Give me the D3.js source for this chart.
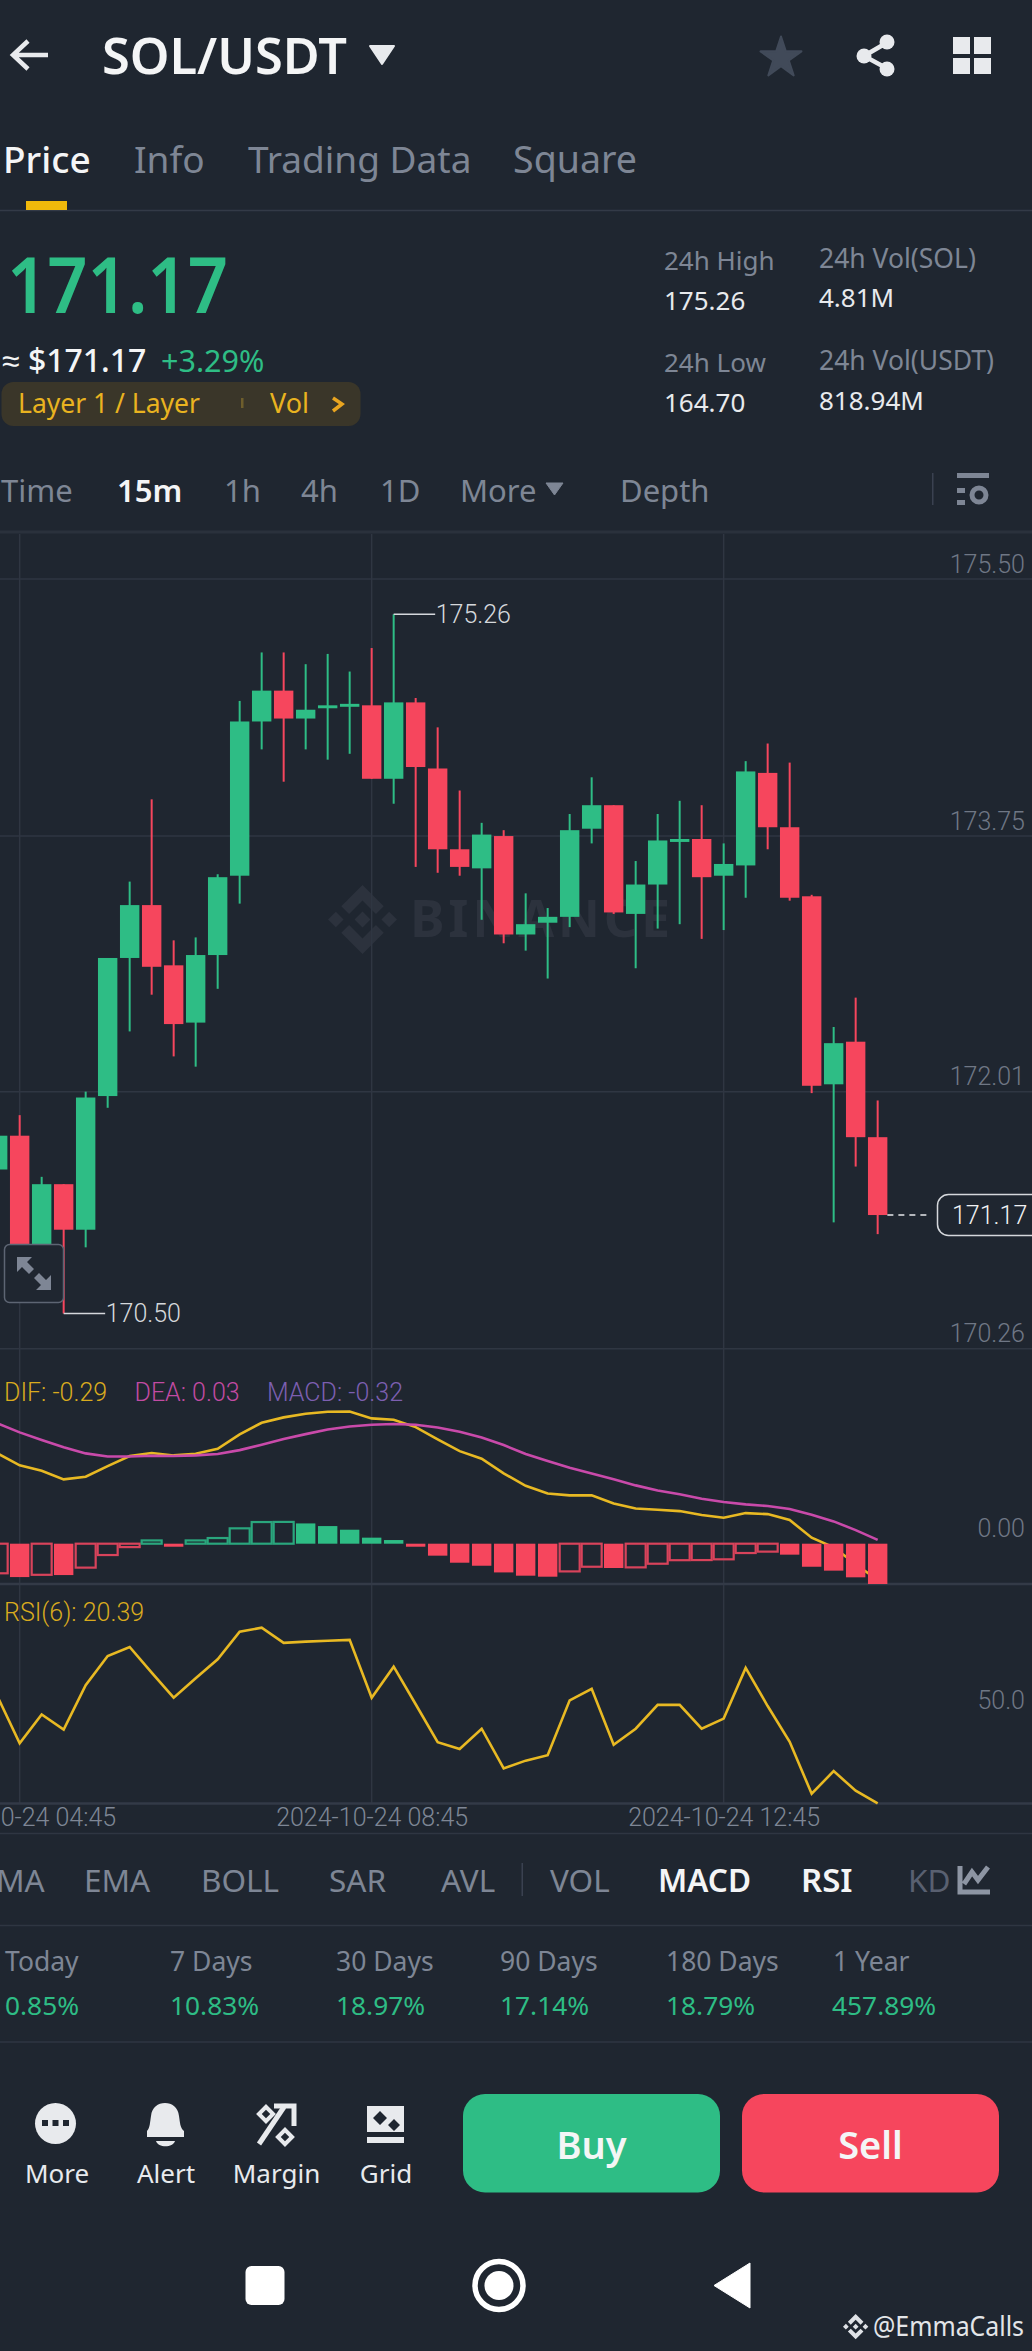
<!DOCTYPE html>
<html lang="en">
<head>
<meta charset="UTF-8">
<title>SOL/USDT</title>
<script src="https://d3js.org/d3.v7.min.js"></script>
<style>
    html, body { margin: 0; padding: 0; background: #1f2630; }
    svg { display: block; }
    text { font-family: "Noto Sans", sans-serif; }
    .chart-text, .chart-text text { font-family: Roboto, sans-serif; font-weight: 300; }
</style>
</head>
<body>
<div id="app"></div>
<script>
// 15m candles, 04:30 -> 14:30
const opens = [171.48,171.71,170.93,171.38,171.07,171.98,172.92,173.28,172.87,172.48,172.94,173.48,174.53,174.74,174.55,174.62,174.63,174.64,174.14,174.66,174.21,173.66,173.53,173.75,173.08,173.16,173.20,173.80,173.96,173.22,173.42,173.71,173.73,173.48,173.55,174.18,173.81,173.34,172.06,172.35,171.70];
const highs = [171.71,171.85,171.43,171.38,172.01,172.92,173.44,174.00,173.04,173.06,173.49,174.67,175.00,175.00,174.92,174.99,174.87,175.03,175.26,174.69,174.49,174.06,173.84,173.79,173.36,173.26,173.90,174.15,173.96,173.58,173.90,173.99,173.96,173.70,174.26,174.38,174.25,173.35,172.45,172.65,171.95];
const lows = [171.48,170.85,170.93,170.50,170.95,171.90,172.42,172.67,172.25,172.18,172.71,173.29,174.34,174.12,174.34,174.27,174.31,174.14,173.97,173.54,173.50,173.48,173.18,173.02,172.97,172.78,173.13,173.70,173.22,172.85,173.12,173.15,173.05,173.11,173.33,173.66,173.31,172.00,171.12,171.50,171.04];
const closes = [171.71,170.93,171.38,171.07,171.97,172.92,173.28,172.86,172.47,172.94,173.47,174.53,174.74,174.55,174.61,174.64,174.65,174.14,174.66,174.22,173.66,173.54,173.76,173.08,173.15,173.20,173.79,173.96,173.23,173.42,173.72,173.73,173.47,173.56,174.19,173.81,173.33,172.05,172.34,171.70,171.17];

const dif = [0.717,0.622,0.579,0.511,0.532,0.616,0.696,0.720,0.701,0.714,0.754,0.868,0.960,1.003,1.032,1.048,1.050,0.995,0.984,0.926,0.828,0.735,0.675,0.558,0.460,0.399,0.384,0.384,0.320,0.280,0.270,0.259,0.228,0.206,0.243,0.235,0.188,0.048,-0.029,-0.161,-0.29];
const dea = [0.955,0.884,0.823,0.765,0.717,0.693,0.693,0.698,0.696,0.701,0.712,0.743,0.786,0.831,0.870,0.907,0.931,0.944,0.950,0.944,0.923,0.889,0.844,0.783,0.712,0.656,0.603,0.558,0.511,0.463,0.423,0.392,0.357,0.331,0.312,0.299,0.275,0.230,0.177,0.108,0.03];
const macd = [-0.235,-0.265,-0.247,-0.249,-0.190,-0.090,-0.027,0.026,-0.024,0.026,0.045,0.122,0.172,0.173,0.161,0.140,0.111,0.048,0.029,-0.024,-0.095,-0.151,-0.175,-0.228,-0.254,-0.262,-0.220,-0.183,-0.193,-0.188,-0.159,-0.131,-0.130,-0.124,-0.074,-0.063,-0.087,-0.183,-0.214,-0.267,-0.32];
const rsi = [56.1,40.5,50.2,45.1,60.0,69.8,72.8,64.2,55.8,62.3,68.7,77.9,79.3,74.2,74.6,74.9,75.2,55.8,66.2,53.6,40.9,38.6,45.4,32.1,34.7,36.5,54.9,58.8,40.0,45.4,53.4,53.4,45.4,48.8,65.8,53.0,41.0,23.6,31.2,24.6,20.39];

const priceTicks = [175.50,173.75,172.01,170.26];
const timeTickIndex = [1,17,33];
const timeTickLabels = ["2024-10-24 04:45","2024-10-24 08:45","2024-10-24 12:45"];

const tabs = ["Price","Info","Trading Data","Square"];
const timeframes = ["Time","15m","1h","4h","1D","More","Depth"];
const indicators = ["MA","EMA","BOLL","SAR","AVL","VOL","MACD","RSI","KD"];
const periods = ["Today","7 Days","30 Days","90 Days","180 Days","1 Year"];
const periodChange = ["0.85%","10.83%","18.97%","17.14%","18.79%","457.89%"];
const tools = ["More","Alert","Margin","Grid"];

const W = 1032, H = 2351;
const BG = "#1f2630", GRID = "#2f3642", UP = "#2ebd85", DOWN = "#f6465d", GRAY = "#7e8695", GOLD = "#f0b90b", LIGHT = "#e8eaed";
const bodyWidth = 19.4;

const svg = d3.select("#app").append("svg").attr("width", W).attr("height", H);
svg.append("rect").attr("width", W).attr("height", H).attr("fill", BG);

function label(x, y, s, size, color, weight, anchor) {
    return svg.append("text").attr("x", x).attr("y", y).text(s)
        .attr("font-size", size).attr("fill", color)
        .attr("font-weight", weight || 400).attr("text-anchor", anchor || "start");
}
function hline(y, color, w) {
    svg.append("line").attr("x1", 0).attr("x2", W).attr("y1", y).attr("y2", y)
        .attr("stroke", color || GRID).attr("stroke-width", w || 1.5);
}

// scales
const x = d3.scaleLinear().domain([0, 40]).range([-2.33, 877.67]);
const y = d3.scaleLinear().domain([175.50, 170.26]).range([579, 1348.7]);
const yMacd = d3.scaleLinear().domain([0, -0.32]).range([1543.7, 1584]);
const yRsi = d3.scaleLinear().domain([50, 20.39]).range([1715, 1803.3]);

// ---------- header ----------
svg.append("path").attr("d", "M48 55H14M28 41L13 55L28 69").attr("fill", "none").attr("stroke", LIGHT).attr("stroke-width", 4.5);
label(102, 74, "SOL/USDT", 50.5, "#f4f5f6", 600);
svg.append("path").attr("d", "M370 46H394L382 64Z").attr("fill", LIGHT).attr("stroke", LIGHT).attr("stroke-width", 2).attr("stroke-linejoin", "round");
svg.append("path").attr("d", d3.symbol(d3.symbolStar, 520)()).attr("transform", "translate(781,58)").attr("fill", "#414a59").attr("stroke", "#414a59").attr("stroke-width", 2).attr("stroke-linejoin", "round");
svg.append("path").attr("d", "M888 42L864 56L888 69").attr("fill", "none").attr("stroke", LIGHT).attr("stroke-width", 4.5);
[[887, 42, 7.5], [864, 56, 7.5], [887, 69, 7.5]].forEach(c => svg.append("circle").attr("cx", c[0]).attr("cy", c[1]).attr("r", c[2]).attr("fill", LIGHT));
[[953, 37, 17, 17], [974, 37, 17, 17], [953, 58, 17, 16], [974, 58, 17, 16]].forEach(r => svg.append("rect").attr("x", r[0]).attr("y", r[1]).attr("width", r[2]).attr("height", r[3]).attr("fill", LIGHT));

const tabX = [3, 134, 248, 513];
tabs.forEach((t, i) => label(tabX[i], 173, t, i === 3 ? 37.6 : 37, i === 0 ? "#f4f5f6" : GRAY, i === 0 ? 500 : 400));
hline(210.5, "#333a47", 1.5);
svg.append("rect").attr("x", 26).attr("y", 201).attr("width", 41).attr("height", 9).attr("fill", GOLD);

label(7, 313, closes[closes.length - 1].toFixed(2), 77, UP, 600).attr("textLength", 221).attr("lengthAdjust", "spacingAndGlyphs");
label(2, 372, "≈ $171.17", 32, "#f4f5f6", 500);
label(161, 372, "+3.29%", 30.5, UP, 400);
svg.append("rect").attr("x", 1.5).attr("y", 382).attr("width", 359).attr("height", 44).attr("rx", 12).attr("fill", "#3a3629");
label(18, 413, "Layer 1 / Layer", 26.5, "#e9b320");
svg.append("rect").attr("x", 241).attr("y", 398).attr("width", 2.5).attr("height", 10).attr("fill", "#6e5e2c");
label(270, 413, "Vol", 27, "#e9b320");
svg.append("path").attr("d", "M333 398L342 404L333 411").attr("fill", "none").attr("stroke", "#e9a520").attr("stroke-width", 3.5);

label(664, 270, "24h High", 26, GRAY);
label(664, 310, "175.26", 26, LIGHT);
label(664, 372, "24h Low", 26, GRAY);
label(664, 412, "164.70", 26, LIGHT);
label(819, 268, "24h Vol(SOL)", 26.5, GRAY);
label(819, 307, "4.81M", 26, LIGHT);
label(819, 370, "24h Vol(USDT)", 26.5, GRAY);
label(819, 410, "818.94M", 26, LIGHT);

const tfX = [1, 117, 224, 301, 380, 460, 620];
timeframes.forEach((t, i) => label(tfX[i], 502, t, 31, i === 1 ? "#f4f5f6" : GRAY, i === 1 ? 600 : 400));
svg.append("path").attr("d", "M546 483H563L554.5 495Z").attr("fill", GRAY).attr("stroke", GRAY).attr("stroke-linejoin", "round");
svg.append("rect").attr("x", 932).attr("y", 473).attr("width", 1.5).attr("height", 32).attr("fill", "#3a4150");
svg.append("rect").attr("x", 957).attr("y", 473).attr("width", 32).attr("height", 5).attr("fill", GRAY);
svg.append("rect").attr("x", 957).attr("y", 488).attr("width", 8).attr("height", 5).attr("fill", GRAY);
svg.append("rect").attr("x", 957).attr("y", 500).attr("width", 8).attr("height", 5).attr("fill", GRAY);
svg.append("circle").attr("cx", 979).attr("cy", 495).attr("r", 7).attr("fill", "none").attr("stroke", GRAY).attr("stroke-width", 5);

// ---------- chart ----------
hline(532, "#2a313c", 3);

// watermark
const logoPaths = [
    "M38.73 53.2 63.31 28.62 87.91 53.22 102.21 38.91 63.31 0 24.42 38.9z",
    "M0 63.31 14.3 49.01 28.6 63.31 14.3 77.61z",
    "M38.73 73.41 63.31 97.99 87.91 73.4 102.22 87.69 63.31 126.61 24.43 87.73z",
    "M98.01 63.31 112.31 49.01 126.61 63.31 112.31 77.61z",
    "M77.82 63.31 63.31 48.79 48.81 63.29 63.31 77.81z"
];
function logo(tx, ty, k, color) {
    const g = svg.append("g").attr("transform", `translate(${tx},${ty}) scale(${k})`);
    logoPaths.forEach(d => g.append("path").attr("d", d).attr("fill", color));
}
logo(328, 885, 0.545, "#2c323d");
label(410, 937, "BINANCE", 52, "#2c323d", 700).attr("textLength", 260);

// grid
priceTicks.forEach(p => hline(y(p)));
timeTickIndex.forEach(i => svg.append("line").attr("x1", x(i)).attr("x2", x(i)).attr("y1", 534).attr("y2", 1803).attr("stroke", GRID).attr("stroke-width", 1.5));
hline(1584, "#333a47", 2.5);
hline(1803.5, "#333a47", 2.5);
hline(1833.5, "#2f3642", 1.5);

// candles
const idx = d3.range(closes.length);
svg.append("g").selectAll("line").data(idx).join("line")
    .attr("x1", i => x(i)).attr("x2", i => x(i))
    .attr("y1", i => y(highs[i])).attr("y2", i => y(lows[i]))
    .attr("stroke", i => closes[i] >= opens[i] ? UP : DOWN).attr("stroke-width", 2);
svg.append("g").selectAll("rect").data(idx).join("rect")
    .attr("x", i => x(i) - bodyWidth / 2).attr("width", bodyWidth)
    .attr("y", i => y(Math.max(opens[i], closes[i])))
    .attr("height", i => Math.max(2.6, Math.abs(y(opens[i]) - y(closes[i]))))
    .attr("fill", i => closes[i] >= opens[i] ? UP : DOWN);

// high / low / last markers
const lastPrice = closes[closes.length - 1];
const hiI = highs.indexOf(d3.max(highs)), loI = lows.indexOf(d3.min(lows));
const marker = svg.append("g").attr("class", "chart-text");
[[hiI, highs[hiI]], [loI, lows[loI]]].forEach(m => {
    marker.append("line").attr("x1", x(m[0])).attr("x2", x(m[0]) + 41.5).attr("y1", y(m[1])).attr("y2", y(m[1])).attr("stroke", "#d5d8dc").attr("stroke-width", 1.5);
    marker.append("text").attr("x", x(m[0]) + 42).attr("y", y(m[1]) + 8.5).attr("font-size", 25).attr("fill", "#d5d8dc").text(m[1].toFixed(2));
});
marker.append("line").attr("x1", x(40) + bodyWidth / 2).attr("x2", 927).attr("y1", y(lastPrice)).attr("y2", y(lastPrice))
    .attr("stroke", "#e6e8ea").attr("stroke-width", 1.5).attr("stroke-dasharray", "6 5");
marker.append("rect").attr("x", 937.5).attr("y", y(lastPrice) - 20.5).attr("width", 110).attr("height", 41).attr("rx", 11)
    .attr("fill", BG).attr("stroke", "#d5d8dc").attr("stroke-width", 1.5);
marker.append("text").attr("x", 952).attr("y", y(lastPrice) + 9).attr("font-size", 25).attr("fill", "#f0f1f3").attr("font-weight", 400).text(lastPrice.toFixed(2));

// expand button
svg.append("rect").attr("x", 4.5).attr("y", 1244.5).attr("width", 59).attr("height", 58).attr("rx", 5)
    .attr("fill", BG).attr("stroke", "#5d6573").attr("stroke-width", 1.5);
svg.append("path").attr("d", "M17 1257H32L27 1262L34 1269L29 1274L22 1267L17 1272Z M51 1290H36L41 1285L34 1278L39 1273L46 1280L51 1275Z").attr("fill", "#7e8695");

// price axis
function tickLabels(sel, dy) {
    sel.select(".domain").remove();
    sel.attr("class", "chart-text").attr("font-family", null);
    sel.selectAll("text").attr("fill", "#6f7785").attr("font-size", 25).attr("dy", dy);
}
svg.append("g").attr("transform", "translate(1025,0)")
    .call(d3.axisLeft(y).tickValues(priceTicks).tickSize(0).tickPadding(0).tickFormat(d3.format(".2f")))
    .call(tickLabels, "-0.28em");
svg.append("g").attr("transform", "translate(1025,0)")
    .call(d3.axisLeft(yMacd).tickValues([0]).tickSize(0).tickPadding(0).tickFormat(d3.format(".2f")))
    .call(tickLabels, "-0.28em");
svg.append("g").attr("transform", "translate(1025,0)")
    .call(d3.axisLeft(yRsi).tickValues([50]).tickSize(0).tickPadding(0).tickFormat(d3.format(".1f")))
    .call(tickLabels, "-0.28em");

// macd pane
const macdLine = d3.line().x((d, i) => x(i)).y(d => yMacd(0) - (yMacd(-d) - yMacd(0)));
svg.append("path").attr("d", macdLine(dif)).attr("fill", "none").attr("stroke", "#e8b923").attr("stroke-width", 2.6);
svg.append("path").attr("d", macdLine(dea)).attr("fill", "none").attr("stroke", "#c94aaa").attr("stroke-width", 2.6);

const macdGroup = svg.append("g");
macd.forEach((v, i) => {
    const hollow = i === 0 || v > macd[i - 1];
    const color = v >= 0 ? UP : DOWN;
    const top = yMacd(0) - Math.max(0, yMacd(-v) - yMacd(0));
    const bottom = yMacd(0) + Math.max(0, yMacd(v) - yMacd(0));
    if (hollow) {
        macdGroup.append("rect").attr("x", x(i) - 10).attr("width", 20).attr("y", top).attr("height", bottom - top)
            .attr("fill", "none").attr("stroke", v >= 0 ? "#2aa67d" : "#d8435b").attr("stroke-width", 2.2);
    } else {
        macdGroup.append("rect").attr("x", x(i) - bodyWidth / 2).attr("width", bodyWidth).attr("y", top).attr("height", bottom - top).attr("fill", color);
    }
});

const legend = svg.append("g").attr("class", "chart-text");
[[4, `DIF: ${dif[40].toFixed(2)}`, "#d9ab1e"], [134.5, `DEA: ${dea[40].toFixed(2)}`, "#c24ba3"], [267, `MACD: ${macd[40].toFixed(2)}`, "#7c5fb0"]].forEach(l =>
    legend.append("text").attr("x", l[0]).attr("y", 1401).attr("font-size", 25).attr("fill", l[2]).text(l[1]));

// rsi pane
const rsiLine = d3.line().x((d, i) => x(i)).y(d => yRsi(d));
svg.append("path").attr("d", rsiLine(rsi)).attr("fill", "none").attr("stroke", "#e8b923").attr("stroke-width", 2.6);
legend.append("text").attr("x", 4).attr("y", 1621).attr("font-size", 25).attr("fill", "#d9ab1e").text(`RSI(6): ${rsi[40].toFixed(2)}`);

// time axis
svg.append("g").attr("transform", "translate(0,1803)")
    .call(d3.axisBottom(x).tickValues(timeTickIndex).tickSize(0).tickPadding(0).tickFormat((d, i) => timeTickLabels[i]))
    .call(sel => {
        sel.select(".domain").remove();
        sel.attr("class", "chart-text").attr("font-family", null);
        sel.selectAll("text").attr("fill", "#7e8695").attr("font-size", 25).attr("dy", "0.9em");
    });

// ---------- indicator tabs ----------
const indX = [-4, 84, 201, 329, 441, 550, 658, 801, 908];
indicators.forEach((t, i) => label(indX[i], 1892, t, t === "RSI" ? 33 : 31.5, (t === "MACD" || t === "RSI") ? "#f4f5f6" : (t === "KD" ? "#596070" : GRAY), (t === "MACD" || t === "RSI") ? 600 : 400));
svg.append("rect").attr("x", 521.5).attr("y", 1863).attr("width", 1.5).attr("height", 33).attr("fill", "#3a4150");
svg.append("path").attr("d", "M960 1866V1892H990M964 1884L972 1872L978 1880L988 1867").attr("fill", "none").attr("stroke", "#8d95a3").attr("stroke-width", 5);
hline(1925.5, "#2f3642", 1.5);

// ---------- performance ----------
const perfX = [5, 170, 336, 500, 666, 833];
periods.forEach((p, i) => {
    label(perfX[i], 1971, p, 26.5, GRAY);
    label(perfX[i] - (i === 5 ? 1 : 0), 2015, periodChange[i], 26.3, UP);
});
hline(2042, "#2f3642", 1.5);

// ---------- toolbar ----------
const toolX = [57, 166, 276.5, 386];
tools.forEach((t, i) => label(toolX[i], 2183, t, 26, LIGHT, 400, "middle"));
svg.append("circle").attr("cx", 55.5).attr("cy", 2123.5).attr("r", 20.5).attr("fill", LIGHT);
[45, 55.5, 66].forEach(cx => svg.append("rect").attr("x", cx - 3).attr("y", 2120).attr("width", 6).attr("height", 6).attr("fill", BG));
svg.append("path").attr("d", "M147 2137V2131C150 2128 150 2122 151 2116C152 2107 158 2103 165 2103C172 2103 178 2107 179 2116C180 2122 180 2128 184 2131V2137Z M156 2141H175C173 2148 158 2148 156 2141Z").attr("fill", LIGHT);
svg.append("path").attr("d", "M259 2144L284 2107").attr("stroke", LIGHT).attr("stroke-width", 5);
svg.append("path").attr("d", "M274 2106H294V2126").attr("fill", "none").attr("stroke", LIGHT).attr("stroke-width", 5);
[[266, 2114], [285, 2137]].forEach(c => svg.append("rect").attr("x", c[0] - 5).attr("y", c[1] - 5).attr("width", 10).attr("height", 10).attr("transform", `rotate(45 ${c[0]} ${c[1]})`).attr("fill", "none").attr("stroke", LIGHT).attr("stroke-width", 4));
svg.append("path").attr("d", "M367 2106H404V2132H367Z").attr("fill", LIGHT);
svg.append("rect").attr("x", 367).attr("y", 2137).attr("width", 37).attr("height", 6).attr("fill", LIGHT);
svg.append("path").attr("d", "M373 2118L380 2111L387 2118L380 2125Z M388 2125L394 2119L400 2125L394 2131Z").attr("fill", BG);

svg.append("rect").attr("x", 463).attr("y", 2094).attr("width", 257).attr("height", 98.5).attr("rx", 22).attr("fill", UP);
svg.append("rect").attr("x", 742).attr("y", 2094).attr("width", 257).attr("height", 98.5).attr("rx", 22).attr("fill", DOWN);
label(591.5, 2159, "Buy", 38, "#f4f6f6", 600, "middle");
label(870.5, 2159, "Sell", 38, "#f4f6f6", 600, "middle");

// ---------- nav bar ----------
svg.append("rect").attr("x", 245.5).attr("y", 2266).attr("width", 39).attr("height", 39).attr("rx", 6).attr("fill", "#fff");
svg.append("circle").attr("cx", 499).attr("cy", 2285.5).attr("r", 24).attr("fill", "none").attr("stroke", "#fff").attr("stroke-width", 5.5);
svg.append("circle").attr("cx", 499).attr("cy", 2285.5).attr("r", 14.5).attr("fill", "#fff");
svg.append("path").attr("d", "M750 2263V2308L714 2285.5Z").attr("fill", "#fff").attr("stroke", "#fff").attr("stroke-linejoin", "round");

logo(843, 2314, 0.2, "#dfe2e6");
label(873, 2336, "@EmmaCalls", 27, "#e3e5e8").attr("textLength", 151).attr("lengthAdjust", "spacingAndGlyphs");
</script>
</body>
</html>
